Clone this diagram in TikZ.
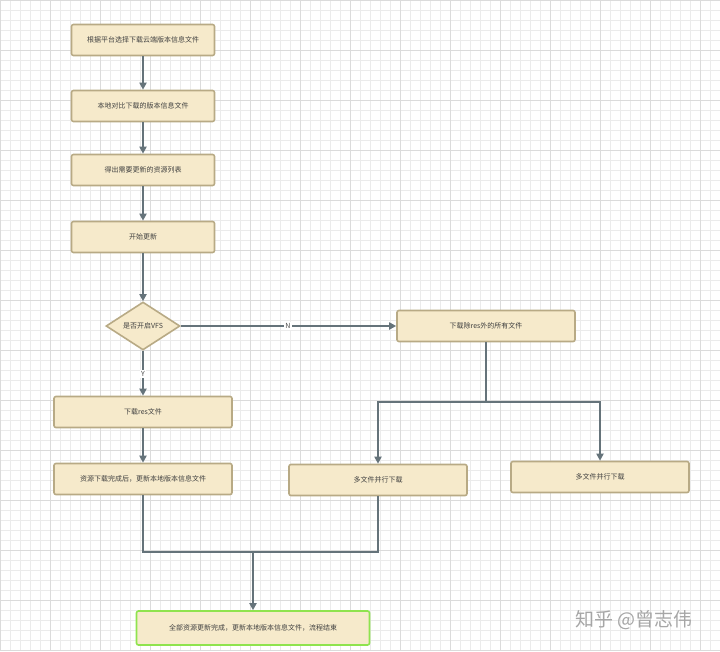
\documentclass[tikz,border=0pt]{standalone}
\usepackage{fontspec}
\setmainfont{Noto Sans CJK SC}
\usetikzlibrary{arrows.meta,shapes.geometric}
\definecolor{boxfill}{HTML}{F6EACB}
\definecolor{boxline}{HTML}{B8AA85}
\definecolor{conn}{HTML}{65737A}
\definecolor{endline}{HTML}{8FE34E}
\tikzset{
  proc/.style={draw=boxline,line width=1.6pt,fill=boxfill,rounded corners=2pt,minimum height=31pt,font=\fontsize{7}{8}\selectfont,text=black!75},
  wide/.style={proc,minimum width=143pt},
  wider/.style={proc,minimum width=178pt},
  dec/.style={diamond,draw=boxline,line width=1.6pt,fill=boxfill,minimum width=74pt,minimum height=48pt,inner sep=0pt,aspect=1.54,font=\fontsize{7}{8}\selectfont,text=black!75},
  conn/.style={draw=conn,line width=2.2pt,-{Triangle[length=7pt,width=7pt]}},
  plain/.style={draw=conn,line width=2.2pt},
  lbl/.style={draw=none,fill=white,inner sep=1pt,font=\fontsize{7}{7}\selectfont,text=black!70}
}
\begin{document}
\begin{tikzpicture}[x=1pt,y=-1pt]
\useasboundingbox (0,0) rectangle (720,651);
\fill[white] (0,0) rectangle (720,651);
\foreach \i in {0,10,...,720} \draw[black!8,line width=0.4pt] (\i,0) -- (\i,651);
\foreach \j in {0,10,...,650} \draw[black!8,line width=0.4pt] (0,\j) -- (720,\j);
\foreach \i in {0,50,...,700} \draw[black!14,line width=0.5pt] (\i,0) -- (\i,651);
\foreach \j in {0,50,...,650} \draw[black!14,line width=0.5pt] (0,\j) -- (720,\j);
\node[wide] (b1) at (143,40) {根据平台选择下载云端版本信息文件};
\node[wide] (b2) at (143,106) {本地对比下载的版本信息文件};
\node[wide] (b3) at (143,170) {得出需要更新的资源列表};
\node[wide] (b4) at (143,237) {开始更新};
\node[dec] (d) at (143,326) {是否开启VFS};
\node[wider] (b5) at (486,326) {下载除res外的所有文件};
\node[wider] (b6) at (143,412) {下载res文件};
\node[wider] (b7) at (143,479) {资源下载完成后，更新本地版本信息文件};
\node[wider] (b8) at (378,480) {多文件并行下载};
\node[wider] (b9) at (600,477) {多文件并行下载};
\node[proc,draw=endline,minimum width=233pt,minimum height=34pt] (e) at (253,628) {全部资源更新完成，更新本地版本信息文件，流程结束};
\coordinate (j1) at (486,402);
\coordinate (j2) at (253,552);
\draw[conn] (b1) -- (b2);
\draw[conn] (b2) -- (b3);
\draw[conn] (b3) -- (b4);
\draw[conn] (b4) -- (d);
\draw[conn] (d) -- (b5);
\draw[conn] (d) -- (b6);
\node[lbl] (ln) at (288,326) {N};
\node[lbl] (ly) at (143,374) {Y};
\draw[conn] (b6) -- (b7);
\draw[plain] (b5) -- (j1);
\draw[conn] (j1) -| (b8);
\draw[conn] (j1) -| (b9);
\draw[plain] (b7) |- (j2);
\draw[plain] (b8) |- (j2);
\draw[conn] (j2) -- (e);
\node[font=\fontsize{19}{22}\selectfont,text=black!35] (wm) at (634,620) {知乎 @曾志伟};
\end{tikzpicture}
\end{document}
